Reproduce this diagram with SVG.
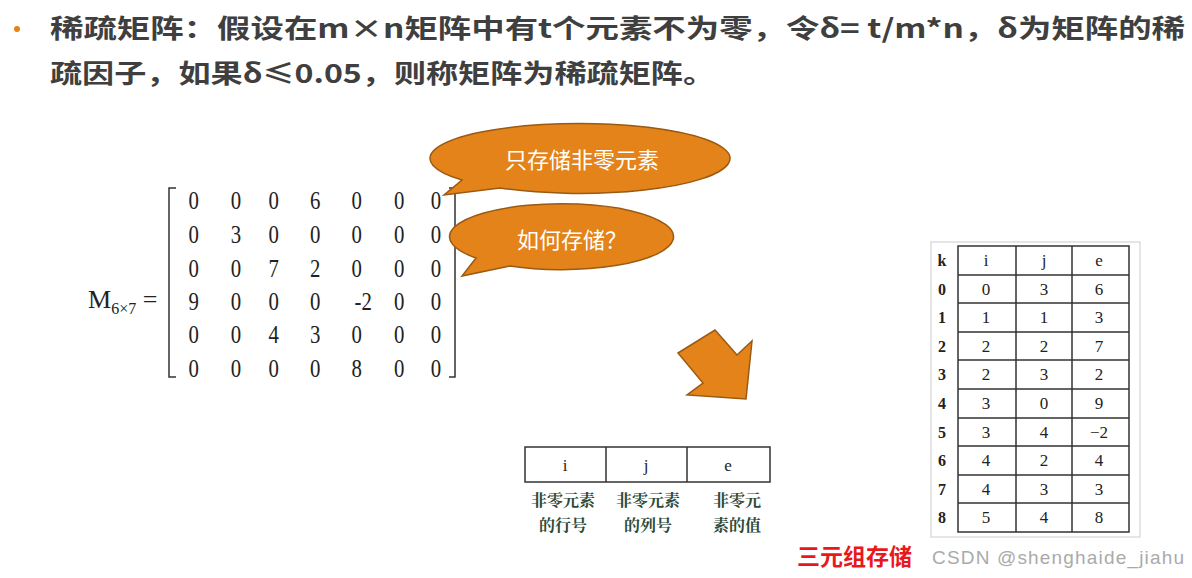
<svg xmlns="http://www.w3.org/2000/svg" width="1192" height="578" viewBox="0 0 1192 578">
<style>
.t{font-family:"Noto Sans CJK SC","Noto Sans",sans-serif;font-weight:bold;font-size:26px;fill:#3f3f3f}
.m{font-family:"Liberation Serif",serif;font-size:26px;fill:#222;text-anchor:middle}
.s{font-family:"Liberation Serif",serif;font-size:17px;fill:#222;text-anchor:middle}
.sb{font-family:"Liberation Serif",serif;font-size:16px;font-weight:bold;fill:#222;text-anchor:middle}
.b{fill:#E3831A;stroke:#9a5a12;stroke-width:1.5}
.bt{font-family:"Noto Sans CJK SC",sans-serif;font-size:22px;fill:#fff;text-anchor:middle}
.lab{font-family:"Noto Serif CJK SC","Noto Sans CJK SC",serif;font-weight:bold;font-size:16px;fill:#2d4a3a;text-anchor:middle}
.g{stroke:#333;stroke-width:1.5;fill:none}
</style>
<g id="title">
<circle cx="17" cy="29" r="3" fill="#E3831A"/>
<text class="t" x="50" y="38" textLength="1135" lengthAdjust="spacingAndGlyphs">稀疏矩阵：假设在m×n矩阵中有t个元素不为零，令δ= t/m*n，δ为矩阵的稀</text>
<text class="t" x="50" y="83" textLength="665" lengthAdjust="spacingAndGlyphs">疏因子，如果δ≤0.05，则称矩阵为稀疏矩阵。</text>
</g>
<g id="matrix">
<text x="88" y="308" font-family="Liberation Serif,serif" font-size="26" fill="#222">M<tspan font-size="16" dy="6">6×7</tspan><tspan dy="-6"> =</tspan></text>
<path class="g" d="M176,188 H169 V377 H176 M449,188 H455 V377 H449" stroke-width="1.2"/>
<g class="m" transform="scale(0.8,1)">
<text y="209"><tspan x="242">0</tspan><tspan x="295">0</tspan><tspan x="342">0</tspan><tspan x="394">6</tspan><tspan x="446">0</tspan><tspan x="499">0</tspan><tspan x="545">0</tspan></text>
<text y="243"><tspan x="242">0</tspan><tspan x="295">3</tspan><tspan x="342">0</tspan><tspan x="394">0</tspan><tspan x="446">0</tspan><tspan x="499">0</tspan><tspan x="545">0</tspan></text>
<text y="277"><tspan x="242">0</tspan><tspan x="295">0</tspan><tspan x="342">7</tspan><tspan x="394">2</tspan><tspan x="446">0</tspan><tspan x="499">0</tspan><tspan x="545">0</tspan></text>
<text y="310"><tspan x="242">9</tspan><tspan x="295">0</tspan><tspan x="342">0</tspan><tspan x="394">0</tspan><tspan x="454">-2</tspan><tspan x="499">0</tspan><tspan x="545">0</tspan></text>
<text y="343"><tspan x="242">0</tspan><tspan x="295">0</tspan><tspan x="342">4</tspan><tspan x="394">3</tspan><tspan x="446">0</tspan><tspan x="499">0</tspan><tspan x="545">0</tspan></text>
<text y="377"><tspan x="242">0</tspan><tspan x="295">0</tspan><tspan x="342">0</tspan><tspan x="394">0</tspan><tspan x="446">8</tspan><tspan x="499">0</tspan><tspan x="545">0</tspan></text>
</g>
</g>
<g id="bubble1">
<path class="b" d="M462,180 A150,35 0 1 1 500,188 L444,195 Z"/>
<text class="bt" x="582" y="168">只存储非零元素</text>
</g>
<g id="bubble2">
<path class="b" d="M476,258 A112,33 0 1 1 510,266 L462,276 Z"/>
<text class="bt" x="572" y="248">如何存储？</text>
</g>
<g id="arrow">
<polygon class="b" points="678,353 715,330 737,355 752,341 746,399 687,395 703,383"/>
</g>
<g id="triple">
<rect class="g" x="525" y="447" width="245" height="35" stroke-width="1.2"/>
<path class="g" d="M606,447 V482 M687,447 V482" stroke-width="1.2"/>
<text class="s" x="565" y="471" font-size="19">i</text>
<text class="s" x="646" y="471" font-size="19">j</text>
<text class="s" x="728" y="471" font-size="19">e</text>
<text class="lab" x="563" y="506">非零元素</text>
<text class="lab" x="563" y="531">的行号</text>
<text class="lab" x="648" y="506">非零元素</text>
<text class="lab" x="648" y="531">的列号</text>
<text class="lab" x="737" y="506">非零元</text>
<text class="lab" x="737" y="531">素的值</text>
</g>
<g id="table">
<rect x="931" y="242" width="209" height="295" fill="#fff" stroke="#ccc"/>
<rect class="g" x="958" y="246" width="171" height="286"/>
<path class="g" d="M1016,246 V532 M1072,246 V532 M958,275 H1129 M958,303 H1129 M958,332 H1129 M958,360 H1129 M958,389 H1129 M958,418 H1129 M958,446 H1129 M958,475 H1129 M958,503 H1129"/>
<g class="sb"><text x="942" y="266">k</text><text x="942" y="295">0</text><text x="942" y="323">1</text><text x="942" y="352">2</text><text x="942" y="380">3</text><text x="942" y="409">4</text><text x="942" y="438">5</text><text x="942" y="466">6</text><text x="942" y="495">7</text><text x="942" y="523">8</text></g>
<g class="s">
<text x="986" y="266">i</text><text x="1044" y="266">j</text><text x="1099" y="266">e</text>
<text x="986" y="295">0</text><text x="1044" y="295">3</text><text x="1099" y="295">6</text>
<text x="986" y="323">1</text><text x="1044" y="323">1</text><text x="1099" y="323">3</text>
<text x="986" y="352">2</text><text x="1044" y="352">2</text><text x="1099" y="352">7</text>
<text x="986" y="380">2</text><text x="1044" y="380">3</text><text x="1099" y="380">2</text>
<text x="986" y="409">3</text><text x="1044" y="409">0</text><text x="1099" y="409">9</text>
<text x="986" y="438">3</text><text x="1044" y="438">4</text><text x="1099" y="438">−2</text>
<text x="986" y="466">4</text><text x="1044" y="466">2</text><text x="1099" y="466">4</text>
<text x="986" y="495">4</text><text x="1044" y="495">3</text><text x="1099" y="495">3</text>
<text x="986" y="523">5</text><text x="1044" y="523">4</text><text x="1099" y="523">8</text>
</g>
</g>
<g id="caption">
<text x="797" y="565" font-family="Noto Sans CJK SC,sans-serif" font-weight="bold" font-size="23" fill="#e8191c">三元组存储</text>
<text x="932" y="564" font-family="Liberation Sans,sans-serif" font-size="19" fill="#aaa" textLength="252">CSDN @shenghaide_jiahu</text>
</g>
</svg>
